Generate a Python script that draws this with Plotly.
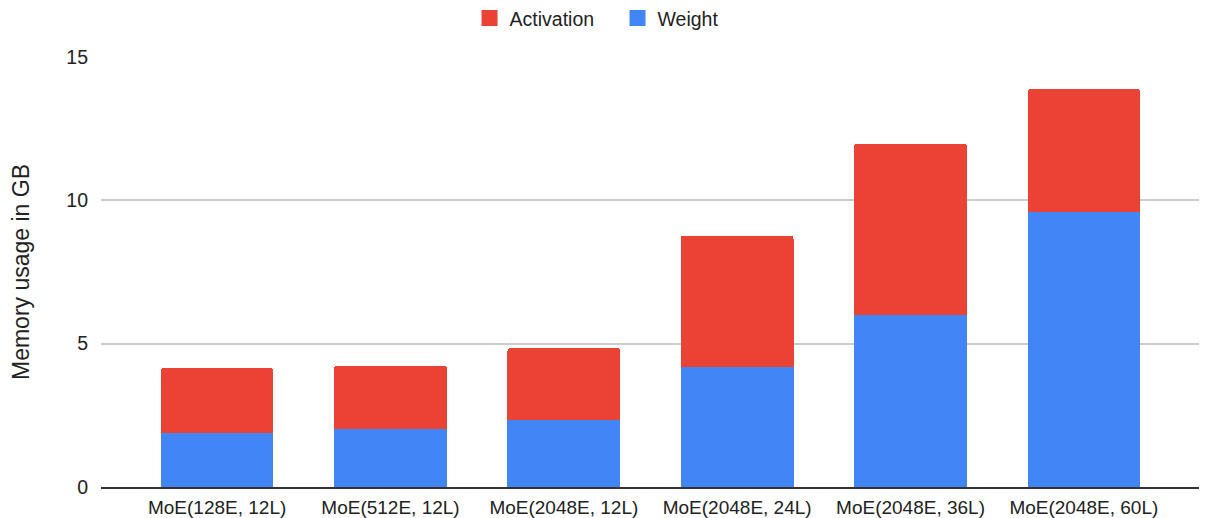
import plotly.graph_objects as go

# Data
models = ["MoE(128E, 12L)", "MoE(512E, 12L)", "MoE(2048E, 12L)",
          "MoE(2048E, 24L)", "MoE(2048E, 36L)", "MoE(2048E, 60L)"]
weight_gb = [1.87, 2.03, 2.34, 4.19, 6.0, 9.59]
activation_gb = [2.28, 2.19, 2.51, 4.58, 5.98, 4.29]
y_ticks = [0, 5, 10, 15]

RED = "#EA4335"
BLUE = "#4285F4"

fig = go.Figure()
fig.add_trace(go.Bar(x=models, y=weight_gb, name="Weight",
                     marker=dict(color=BLUE, line=dict(width=0)), showlegend=False))
fig.add_trace(go.Bar(x=models, y=activation_gb, name="Activation",
                     marker=dict(color=RED, line=dict(width=0)), showlegend=False))

# legend entries with bigger square swatches
for name, color in [("Activation", RED), ("Weight", BLUE)]:
    fig.add_trace(go.Scatter(x=[None], y=[None], mode="markers", name=name,
                             marker=dict(symbol="square", size=19, color=color)))

# page body has an 8px margin, so the figure is a bit smaller than the window
fig.update_layout(
    barmode="stack",
    bargap=0.35,
    barcornerradius=3,
    width=1199,
    height=510,
    font=dict(family="Liberation Sans, Arial, sans-serif", size=19.5, color="#222222"),
    margin=dict(l=93, r=7, t=49, b=31, autoexpand=False),
    legend=dict(
        orientation="h",
        x=0.47, xanchor="center",
        y=1.09, yanchor="middle",
        traceorder="normal",
        font=dict(size=19.5),
        itemwidth=30,
        entrywidth=103,
    ),
    xaxis=dict(
        type="category",
        range=[-0.67, 5.67],
        showgrid=False,
        showline=True,
        linecolor="#333333",
        linewidth=1.5,
        ticks="",
        automargin=False,
        ticklabelstandoff=2,
        tickfont=dict(size=19),
    ),
    yaxis=dict(
        title=dict(text="Memory usage in GB", standoff=40),
        range=[0, 15],
        tickvals=y_ticks,
        gridcolor="#cccccc",
        gridwidth=1.5,
        zeroline=False,
        ticks="",
        ticklabelstandoff=12,
        automargin=False,
    ),
    plot_bgcolor="white",
    paper_bgcolor="white",
)

fig.write_html("out.html")
